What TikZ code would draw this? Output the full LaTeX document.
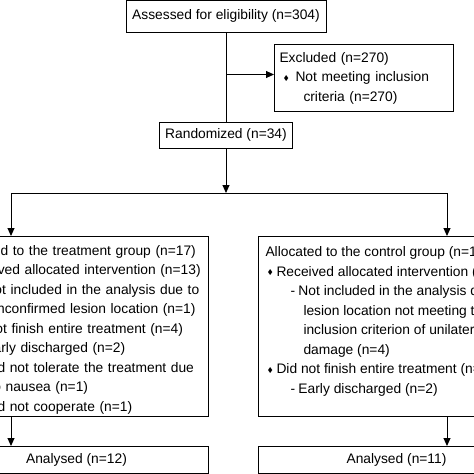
\documentclass[tikz,border=0pt]{standalone}
\usepackage{fontspec}
\setmainfont{Liberation Sans}
\usepackage{amssymb}
\usetikzlibrary{arrows.meta,positioning,calc}
\newcommand{\dmd}{\raisebox{1.5pt}{$\scriptscriptstyle\blacklozenge$}}

\begin{document}
\begin{tikzpicture}[
  x=1pt,y=-1pt,
  font=\fontsize{13.8pt}{19.5pt}\selectfont,
  box/.style={rectangle,draw,line width=1pt,inner sep=0pt,align=center},
  listbox/.style={rectangle,draw,line width=1pt,align=left,inner xsep=7pt,inner ysep=0pt,minimum height=180pt},
  arrow/.style={-{Triangle[length=8pt,width=7pt]},line width=1pt},
  link/.style={line width=1pt},
]
\useasboundingbox (0,0) rectangle (474,474);
\clip (0,0) rectangle (474,474);

\node[box,minimum width=200pt,minimum height=32pt] (assess) at (226,16) {Assessed for eligibility (n=304)};
\node[box,anchor=north west,align=left,inner xsep=5pt,text width=169pt,minimum height=67pt] (excl) at (274,44) {Excluded (n=270)\\
\hspace*{4pt}\makebox[12pt][l]{\dmd}Not meeting inclusion\\
\hspace*{24pt}criteria (n=270)};
\node[box,minimum width=133pt,minimum height=26pt] (rand) at (226,135) {Randomized (n=34)};

% both group boxes: first line strut pushes the text a bit lower
\node[listbox,anchor=north east,text width=250pt] (treat) at (209,236) {\rule{0pt}{16pt}Allocated to the treatment group (n=17)\\
\hspace*{2pt}\makebox[9pt][l]{\dmd}Received allocated intervention (n=13)\\
\hspace*{25pt}\makebox[8pt][l]{-}Not included in the analysis due to\\
\hspace*{38pt}unconfirmed lesion location (n=1)\\
\hspace*{2pt}\makebox[9pt][l]{\dmd}Did not finish entire treatment (n=4)\\
\hspace*{25pt}\makebox[8pt][l]{-}Early discharged (n=2)\\
\hspace*{25pt}\makebox[8pt][l]{-}Did not tolerate the treatment due\\
\hspace*{38pt}to nausea (n=1)\\
\hspace*{25pt}\makebox[8pt][l]{-}Did not cooperate (n=1)};
\node[listbox,anchor=north west] (ctrl) at (258,236) {\rule{0pt}{16pt}Allocated to the control group (n=17)\\
\hspace*{2pt}\makebox[9pt][l]{\dmd}Received allocated intervention (n=15)\\
\hspace*{25pt}\makebox[8pt][l]{-}Not included in the analysis due to\\
\hspace*{38pt}lesion location not meeting the\\
\hspace*{38pt}inclusion criterion of unilateral\\
\hspace*{38pt}damage (n=4)\\
\hspace*{2pt}\makebox[9pt][l]{\dmd}Did not finish entire treatment (n=2)\\
\hspace*{25pt}\makebox[8pt][l]{-}Early discharged (n=2)\\
\mbox{}};

\node[box,anchor=north east,minimum width=264pt,minimum height=27pt] (anatreat) at (209,446) {Analysed (n=12)};
\node[box,anchor=north west,minimum width=276pt,minimum height=27pt] (anactrl) at (258,446) {Analysed (n=11)};

\coordinate (split) at (226,193);
\coordinate (lsplit) at (11,193);
\coordinate (rsplit) at (447,193);

\draw[link] (assess) -- (rand);
\draw[arrow] ([yshift=3.5pt]excl.west -| assess.south) -- ([yshift=3.5pt]excl.west);
\draw[arrow] (rand) -- (split);
\draw[arrow] (split) -| (lsplit |- treat.north);
\draw[arrow] (split) -| (rsplit |- ctrl.north);
\draw[arrow] (lsplit |- treat.south) -- (lsplit |- anatreat.north);
\draw[arrow] (rsplit |- ctrl.south) -- (rsplit |- anactrl.north);
\end{tikzpicture}
\end{document}
